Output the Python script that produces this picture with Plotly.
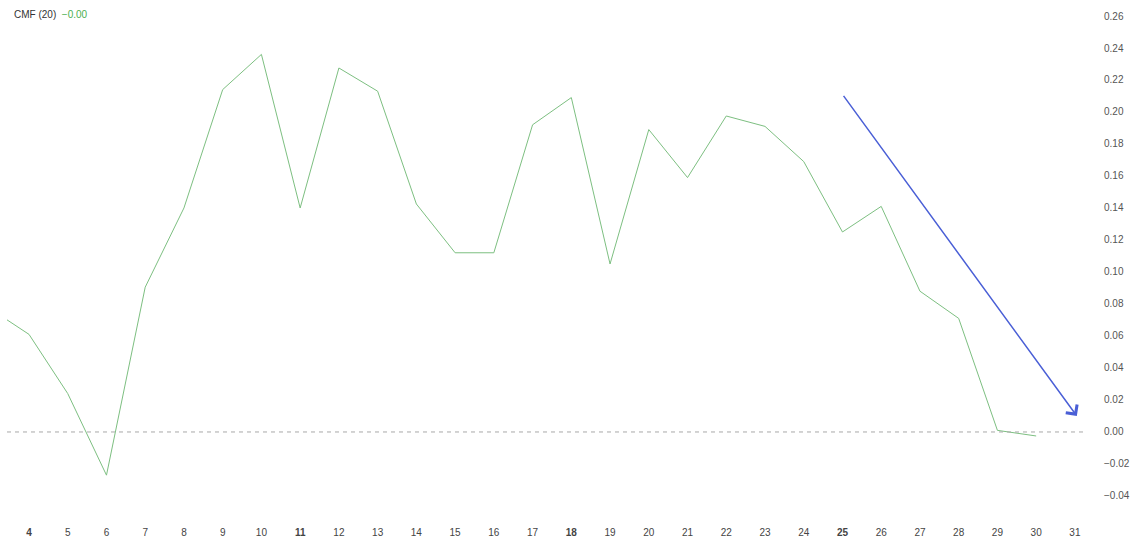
import plotly.graph_objects as go

days = list(range(3, 31))
cmf = [0.077, 0.061, 0.024, -0.027, 0.0905, 0.140, 0.214, 0.236, 0.140, 0.2275,
       0.213, 0.1425, 0.112, 0.112, 0.192, 0.209, 0.105, 0.189, 0.159, 0.1975,
       0.191, 0.169, 0.125, 0.141, 0.088, 0.071, 0.001, -0.0025]

x_ticks = list(range(4, 32))
x_labels = [f"<b>{d}</b>" if d in (4, 11, 18, 25) else str(d) for d in x_ticks]
y_ticks = [round(-0.04 + 0.02 * i, 2) for i in range(16)]

arrow_start = (25, 0.211)
arrow_end = (31.05, 0.010)

fig = go.Figure()
fig.add_trace(go.Scatter(x=days, y=cmf, mode="lines",
                         line=dict(color="#7dbf81", width=1), hoverinfo="skip"))

fig.add_shape(type="line", xref="paper", x0=0, x1=0.995, yref="y", y0=0, y1=0,
              line=dict(color="#a8a8a8", width=1, dash="4px,4px"))

fig.add_annotation(x=arrow_end[0], y=arrow_end[1], ax=arrow_start[0], ay=arrow_start[1],
                   xref="x", yref="y", axref="x", ayref="y", showarrow=True,
                   arrowhead=4, arrowsize=1.8, arrowwidth=1.5, arrowcolor="#4a5fd6", text="")

fig.add_annotation(xref="paper", yref="paper", x=0, y=1, xshift=5, yshift=-14,
                   xanchor="left", yanchor="middle", showarrow=False,
                   text="<span style='color:#333'>CMF (20)</span>  <span style='color:#4caf50'>−0.00</span>",
                   font=dict(size=10, family="Liberation Sans, Arial, sans-serif"))

fig.update_layout(
    width=1144, height=552,
    margin=dict(l=7, r=54, t=0, b=37),
    paper_bgcolor="white", plot_bgcolor="white",
    showlegend=False,
    font=dict(family="Liberation Sans, Arial, sans-serif", size=10, color="#555"),
    xaxis=dict(range=[3.432, 31.39], tickmode="array", tickvals=x_ticks, ticktext=x_labels,
               showgrid=False, zeroline=False, showline=False, ticks="",
               tickfont=dict(size=10, color="#444"), ticklabelstandoff=10),
    yaxis=dict(range=[-0.0519, 0.27], side="right", tickmode="array", tickvals=y_ticks,
               tickformat=".2f", showgrid=False, zeroline=False, showline=False, ticks="",
               tickfont=dict(size=10, color="#555"), ticklabelstandoff=13),
)

fig.write_html("out.html", config={"displayModeBar": False},
               post_script="document.body.style.margin='0';")
